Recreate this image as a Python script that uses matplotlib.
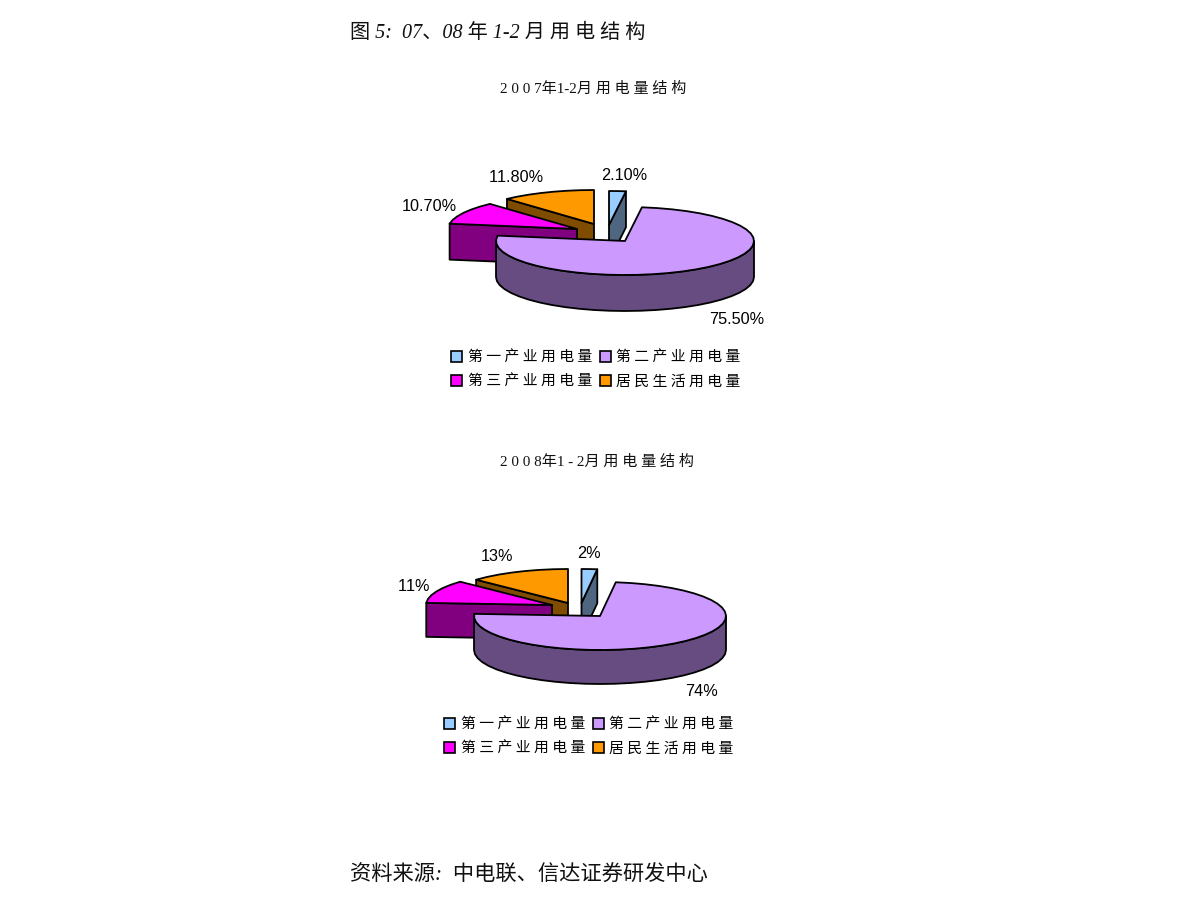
import numpy as np
import matplotlib
matplotlib.use("Agg")
import matplotlib.pyplot as plt
from matplotlib.patches import Polygon, Patch

plt.rcParams["text.kerning_factor"] = 6

# ---- data ----
sectors = ["第一产业用电量", "第二产业用电量", "第三产业用电量", "居民生活用电量"]
values_2007 = [2.10, 75.50, 10.70, 11.80]
values_2008 = [2, 74, 11, 13]
heading = "图 5:  07、08 年 1-2 月 用 电 结 构"
title_2007 = "2 0 0 7年1-2月 用 电 量 结 构"
title_2008 = "2 0 0 8年1 - 2月 用 电 量 结 构"
source = "资料来源:  中电联、信达证券研发中心"

# ---- style / layout (pixel coordinates of the page) ----
top_colors = ["#99CCFF", "#CC99FF", "#FF00FF", "#FF9900"]
side_colors = ["#4F6680", "#664C80", "#800080", "#804C00"]
serif = ["Liberation Serif", "Noto Sans CJK SC"]
cjk = ["Noto Sans CJK SC", "DejaVu Sans"]
label_font = "Liberation Sans"

layout_2007 = dict(rx=129, ry=34, depth=36,
                   apex=[(609, 225), (625, 241), (577, 229), (594, 224)],
                   label_xy=[(624, 175), (737, 319), (429, 206), (516, 177)],
                   label_fmt="{:.2f}%", legend_xy=(596, 370))
layout_2008 = dict(rx=126, ry=34, depth=34,
                   apex=[(581.5, 603), (600, 616), (552, 605), (568, 603)],
                   label_xy=[(589, 553), (702, 691), (414, 586), (497, 556)],
                   label_fmt="{:.0f}%", legend_xy=(589, 737))

fig = plt.figure(figsize=(11.91, 9.05), dpi=100)
ax = fig.add_axes([0, 0, 1, 1])
ax.set_xlim(0, 1191)
ax.set_ylim(905, 0)
ax.axis("off")


def rim(apex, a0, a1, rx, ry, dy=0.0):
    """Faceted ellipse rim between two clockwise-from-top angles (deg)."""
    t = np.radians(np.linspace(a0, a1, max(2, int(abs(a1 - a0) / 7) + 2)))
    return np.column_stack([apex[0] + rx * np.sin(t), apex[1] - ry * np.cos(t) + dy])


def draw_pie(values, layout):
    rx, ry, depth = layout["rx"], layout["ry"], layout["depth"]
    v = np.asarray(values, dtype=float)
    edges = np.concatenate([[0], np.cumsum(v / v.sum() * 360)])
    # painter's order: back slices first, the large front slice last
    order = [3, 2, 0, 1]
    style = dict(edgecolor="black", linewidth=1.3, joinstyle="round")
    for z, i in enumerate(order):
        apex = layout["apex"][i]
        a0, a1 = edges[i], edges[i + 1]
        top = rim(apex, a0, a1, rx, ry)
        # radial wall on the edge that faces the viewer
        if a1 - a0 < 180:
            p = top[-1] if (a0 + a1) / 2 < 90 else top[0]
            wall = [apex, p, (p[0], p[1] + depth), (apex[0], apex[1] + depth)]
            ax.add_patch(Polygon(wall, closed=True, facecolor=side_colors[i],
                                 zorder=2 + z, **style))
        # outer wall on the part of the rim that faces the viewer
        f0, f1 = max(a0, 90), min(a1, 270)
        if f1 > f0:
            upper = rim(apex, f0, f1, rx, ry)
            lower = rim(apex, f0, f1, rx, ry, depth)[::-1]
            ax.add_patch(Polygon(np.vstack([upper, lower]), closed=True,
                                 facecolor=side_colors[i], zorder=2 + z, **style))
        ax.add_patch(Polygon(np.vstack([[apex], top]), closed=True,
                             facecolor=top_colors[i], zorder=2 + z, **style))
    for val, xy in zip(values, layout["label_xy"]):
        ax.text(xy[0], xy[1], layout["label_fmt"].format(val), ha="center", va="center",
                fontsize=11.7, family=label_font, color="black", zorder=20)
    # matplotlib fills legend columns first, reference reads row by row
    handles = [Patch(facecolor=top_colors[i], edgecolor="black", linewidth=1.2,
                     label=" ".join(sectors[i])) for i in (0, 2, 1, 3)]
    leg = ax.legend(handles=handles, ncol=2, loc="center",
                    bbox_to_anchor=layout["legend_xy"], bbox_transform=ax.transData,
                    frameon=False, borderpad=0, borderaxespad=0,
                    handlelength=0.75, handleheight=0.75, handletextpad=0.35,
                    columnspacing=0.55, labelspacing=0.66,
                    prop={"family": cjk, "size": 10.7})
    return leg


leg1 = draw_pie(values_2007, layout_2007)
ax.add_artist(leg1)
draw_pie(values_2008, layout_2008)

ax.text(350, 33, heading, family=serif, style="italic", fontsize=14.5,
        ha="left", va="center", color="#111111")
ax.text(500, 89, title_2007, family=serif, fontsize=10.9, ha="left", va="center", color="#111111")
ax.text(500, 462, title_2008, family=serif, fontsize=10.9, ha="left", va="center", color="#111111")
ax.text(350, 876, source, family=serif, style="italic", fontsize=15.3,
        ha="left", va="center", color="#111111")

fig.savefig("out.png", dpi=100, facecolor="white")
